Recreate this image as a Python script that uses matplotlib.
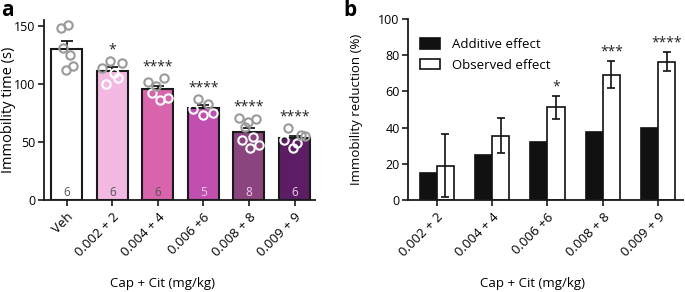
import matplotlib
matplotlib.use("Agg")
import matplotlib.pyplot as plt
import numpy as np

plt.rcParams['font.family'] = ['Open Sans', 'DejaVu Sans']

# Panel a data
groups_a = ["Veh", "0.002 + 2", "0.004 + 4", "0.006 +6", "0.008 + 8", "0.009 + 9"]
means_a = [130.3, 111.0, 95.2, 79.2, 58.6, 53.2]
sem_a = [6.5, 3.5, 3.0, 2.2, 3.5, 2.0]
# individual points, listed left-to-right as they appear within each bar
points_a = [
    [148, 131, 112, 151, 125, 115],
    [114, 100, 120, 109, 105, 118],
    [102, 92, 98, 86, 105, 88],
    [78, 87, 73, 83, 75],
    [71, 52, 63, 67, 45, 54, 70, 47],
    [52, 62, 45, 49, 56, 55],
]
n_a = [6, 6, 6, 5, 8, 6]
stars_a = ["", "*", "****", "****", "****", "****"]
colors_a = ["#ffffff", "#f3b9e3", "#d865ac", "#c04fb0", "#8a457f", "#5c1d65"]
ncolors_a = ["#555555", "#555555", "#555555", "#f0d0ec", "#f0d0ec", "#f0d0ec"]

# Panel b data
groups_b = ["0.002 + 2", "0.004 + 4", "0.006 +6", "0.008 + 8", "0.009 + 9"]
additive = [15, 25, 32, 37.5, 40]
observed = [19, 35.5, 51.2, 69.2, 76.5]
observed_err = [17.5, 9.7, 6.3, 7.5, 5.0]
stars_b = ["", "", "*", "***", "****"]

W, H = 685, 292
fig = plt.figure(figsize=(W / 100, H / 100), dpi=100)

def ax_rect(l, r, t, b):
    return [l / W, (H - b) / H, (r - l) / W, (b - t) / H]

fs = 9.5
# ---------------- Panel a
ax = fig.add_axes(ax_rect(44, 315, 20, 200))
x = np.arange(len(groups_a))
ax.bar(x, means_a, width=0.68, color=colors_a, edgecolor="#1a1a1a", linewidth=1.5, zorder=2)
for i in range(len(x)):
    ax.errorbar(x[i], means_a[i], yerr=[[0], [sem_a[i]]], fmt="none", ecolor="#1a1a1a",
                elinewidth=1.3, capsize=4, capthick=1.3, zorder=3)
    pts = points_a[i]
    spread = 0.13 if i == 0 else 0.22
    offs = np.linspace(-spread, spread, len(pts))
    for j, v in enumerate(pts):
        if i == 0 or v > means_a[i]:
            ec = "#9a9a9a"
        else:
            ec = "white"
        ax.plot(x[i] + offs[j], v, "o", mfc="none", mec=ec, mew=1.5, ms=6, zorder=4)
    ax.text(x[i], 1.0, str(n_a[i]), ha="center", va="bottom", fontsize=8.5, color=ncolors_a[i], zorder=5)
    if stars_a[i]:
        top = max(max(points_a[i]), means_a[i] + sem_a[i])
        ax.text(x[i], top + 3, stars_a[i], ha="center", va="bottom", fontsize=10, color="#222222")
ax.set_xlim(-0.5, 5.45)
ax.set_ylim(0, 155)
ax.set_yticks([0, 50, 100, 150])
ax.set_xticks(x)
ax.set_xticklabels(groups_a, rotation=45, ha="right", rotation_mode="anchor", fontsize=fs)
ax.tick_params(axis="both", labelsize=fs, width=1.2, length=4, color="#1a1a1a")
ax.tick_params(axis="y", labelsize=9, pad=2)
for s in ["top", "right"]:
    ax.spines[s].set_visible(False)
for s in ["left", "bottom"]:
    ax.spines[s].set_linewidth(1.3)
    ax.spines[s].set_color("#1a1a1a")
ax.set_ylabel("Immobility time (s)", fontsize=10.5)
ax.yaxis.set_label_coords((16 - 44) / 271, 0.5)
fig.text(162 / W, (H - 283) / H, "Cap + Cit (mg/kg)", ha="center", va="center", fontsize=fs)
fig.text(1 / W, (H - 0) / H, "a", ha="left", va="top", fontsize=15, fontweight="bold")

# ---------------- Panel b
bx = fig.add_axes(ax_rect(408, 683, 19, 200))
xb = np.arange(len(groups_b))
bw = 0.31
bx.bar(xb - bw / 2, additive, width=bw, color="#111111", edgecolor="#111111", linewidth=1.2,
       label="Additive effect", zorder=2)
bx.bar(xb + bw / 2, observed, width=bw, color="white", edgecolor="#111111", linewidth=1.2,
       label="Observed effect", zorder=2)
bx.errorbar(xb + bw / 2, observed, yerr=observed_err, fmt="none", ecolor="#111111",
            elinewidth=1.2, capsize=3, capthick=1.2, zorder=3)
for i in range(len(xb)):
    if stars_b[i]:
        bx.text(xb[i] + bw / 2, observed[i] + observed_err[i] + 1.0, stars_b[i], ha="center",
                va="bottom", fontsize=10, color="#222222")
bx.set_xlim(-0.52, 4.45)
bx.set_ylim(0, 100)
bx.set_yticks([0, 20, 40, 60, 80, 100])
bx.set_xticks(xb)
bx.set_xticklabels(groups_b, rotation=45, ha="right", rotation_mode="anchor", fontsize=fs)
bx.tick_params(axis="both", labelsize=fs, width=1.2, length=4, color="#1a1a1a")
bx.tick_params(axis="y", labelsize=9, pad=2)
for s in ["top", "right"]:
    bx.spines[s].set_visible(False)
for s in ["left", "bottom"]:
    bx.spines[s].set_linewidth(1.3)
    bx.spines[s].set_color("#1a1a1a")
bx.set_ylabel("Immobility reduction (%)", fontsize=9.5)
bx.yaxis.set_label_coords((363 - 408) / 275, 0.5)
bx.legend(loc="upper left", bbox_to_anchor=(0.0, 0.96), frameon=False, fontsize=fs,
          handlelength=1.5, handleheight=0.8, handletextpad=0.9, labelspacing=0.6)
fig.text(532 / W, (H - 283) / H, "Cap + Cit (mg/kg)", ha="center", va="center", fontsize=fs)
fig.text(343 / W, (H - 0) / H, "b", ha="left", va="top", fontsize=15, fontweight="bold")

fig.savefig("out.png", dpi=100)
